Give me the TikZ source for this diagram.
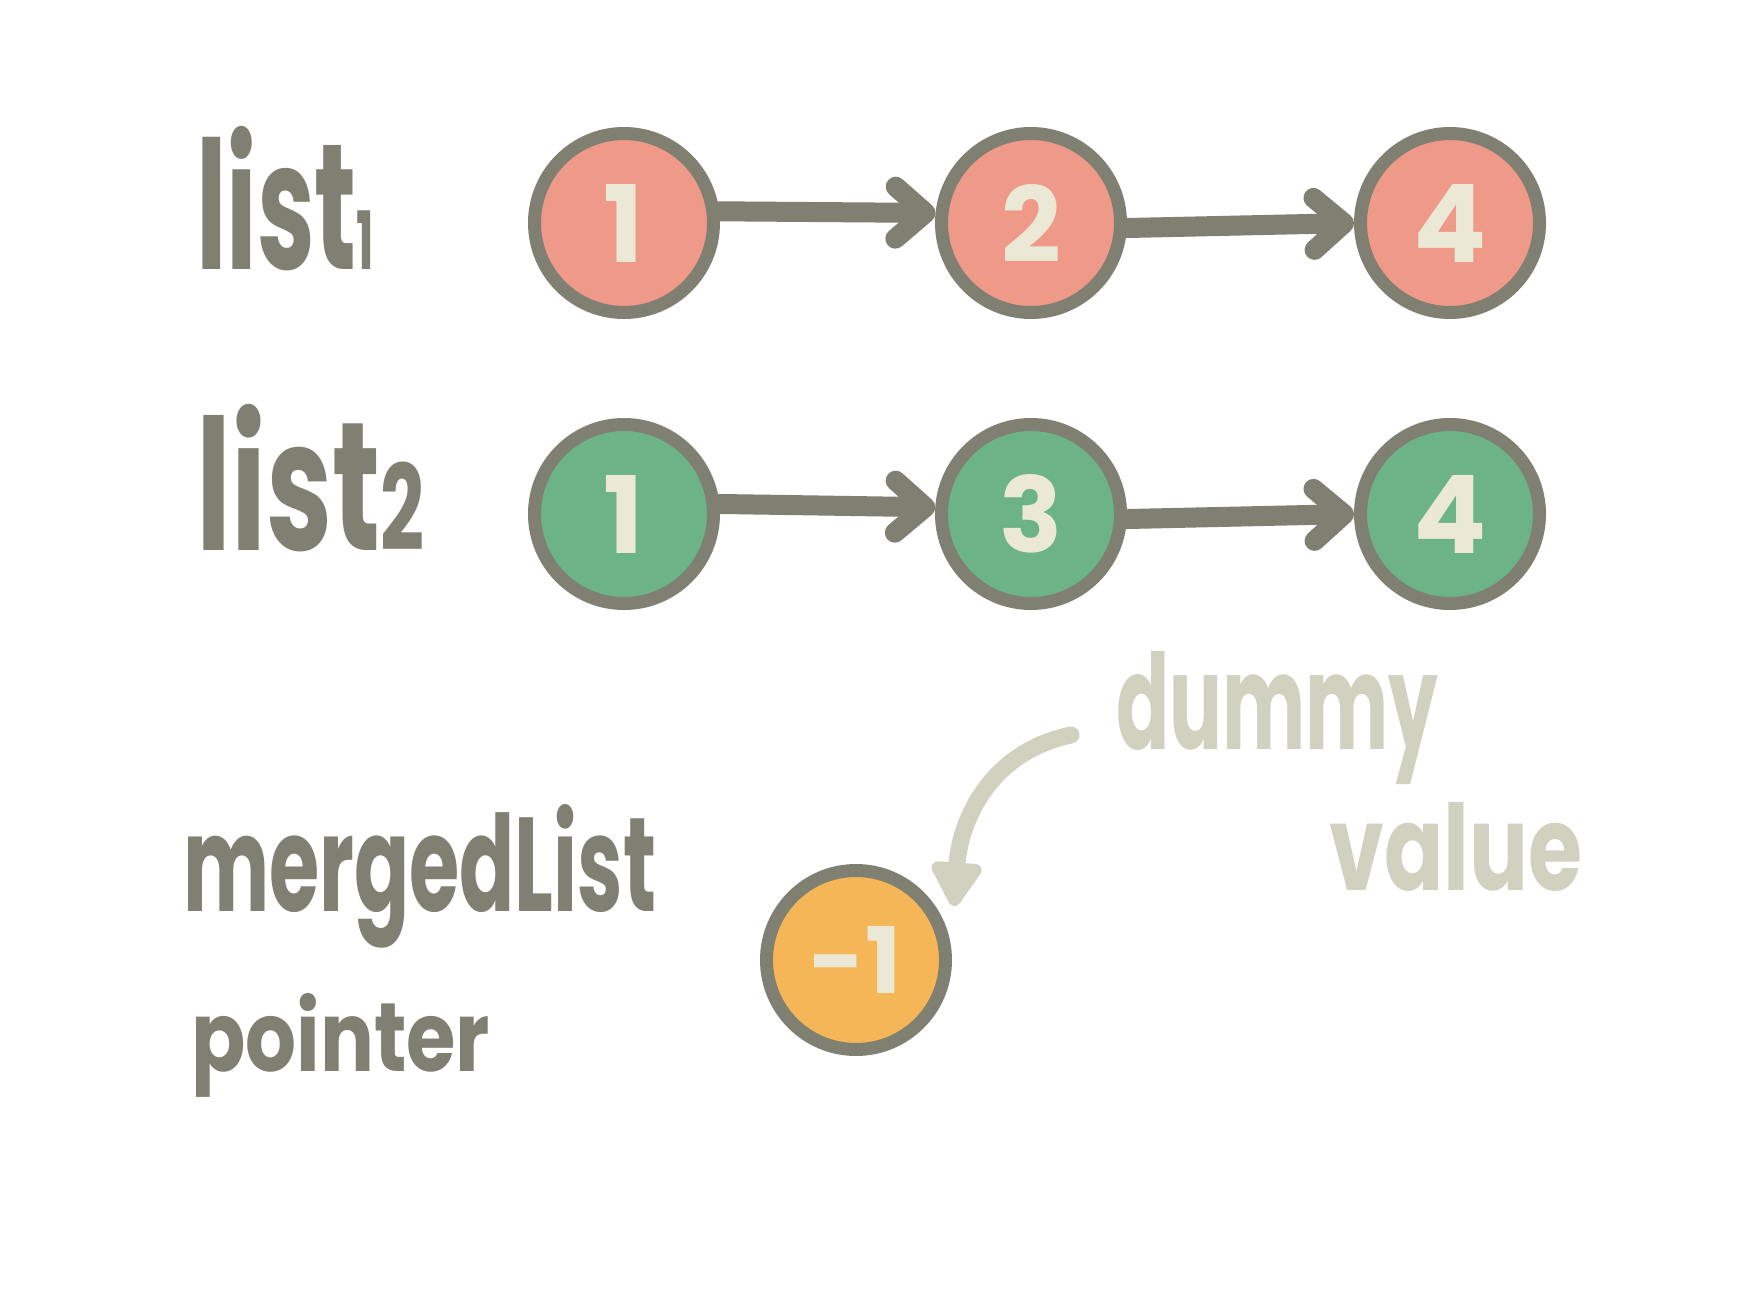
\documentclass[tikz,border=0pt]{standalone}
\usepackage{fontspec}
\setmainfont{Poppins}
\usetikzlibrary{arrows.meta}
\definecolor{ink}{HTML}{7F7F72}
\definecolor{redfill}{HTML}{EF9989}
\definecolor{greenfill}{HTML}{6DB388}
\definecolor{orangefill}{HTML}{F5B657}
\definecolor{cream}{HTML}{EBE8D6}
\definecolor{note}{HTML}{D1D1BF}
\newcommand\cdigit[1]{\resizebox{!}{78pt}{\bfseries #1}}
\tikzset{
  numnode/.style={circle, draw=ink, line width=13pt, minimum size=179pt, inner sep=0pt, text=cream},
  conn/.style={draw=ink, line cap=round, line width=20pt,
    -{Straight Barb[length=30pt, width=52pt, round]}},
  txtlabel/.style={anchor=base west, inner sep=0pt, text=ink, font=\bfseries},
  notelabel/.style={anchor=base west, inner sep=0pt, text=note, font=\bfseries},
  notearrow/.style={draw=note, line cap=round, line width=17pt,
    -{Triangle[length=50pt, width=56pt, round]}}
}
\begin{document}
\begin{tikzpicture}[x=1pt, y=-1pt]
\useasboundingbox[fill=white] (0,0) rectangle (1759,1306);

% list 1
\node[numnode, fill=redfill] (a1) at (624,223) {\cdigit{1}};
\node[numnode, fill=redfill] (a2) at (1031,223) {\cdigit{2}};
\node[numnode, fill=redfill] (a4) at (1450,223) {\cdigit{4}};
\draw[conn] (a1.7) -- (a2.174);
\draw[conn] (a2.-3) -- (a4.180);

% list 2
\node[numnode, fill=greenfill] (b1) at (624,514) {\cdigit{1}};
\node[numnode, fill=greenfill] (b3) at (1031,514) {\cdigit{3}};
\node[numnode, fill=greenfill] (b4) at (1450,514) {\cdigit{4}};
\draw[conn] (b1.6) -- (b3.176);
\draw[conn] (b3.-3) -- (b4.180);

% dummy node
\node[numnode, fill=orangefill] (d) at (856,960) {\resizebox{92pt}{67pt}{\bfseries -1}};

% labels
\node[txtlabel] (l1) at (196,269) {\resizebox{178pt}{143pt}{list{\fontsize{4.5}{5}\selectfont 1}}};
\node[txtlabel] (l2) at (196,550) {\resizebox{228pt}{146pt}{list{\fontsize{6.5}{7}\selectfont 2}}};
\node[txtlabel] (ml) at (183,911) {\resizebox{473pt}{107pt}{mergedList}};
\node[txtlabel] (pt) at (191,1071) {\resizebox{299pt}{78pt}{pointer}};

\node[notelabel] (dm) at (1116,749) {\resizebox{322pt}{98pt}{dummy}};
\node[notelabel] (vl) at (1329,890) {\resizebox{253pt}{88pt}{value}};

\coordinate (ns) at (1071,735);
\coordinate (nt) at (954,906);
\draw[notearrow] (ns) .. controls (990,752) and (960,820) .. (nt);
\end{tikzpicture}
\end{document}
